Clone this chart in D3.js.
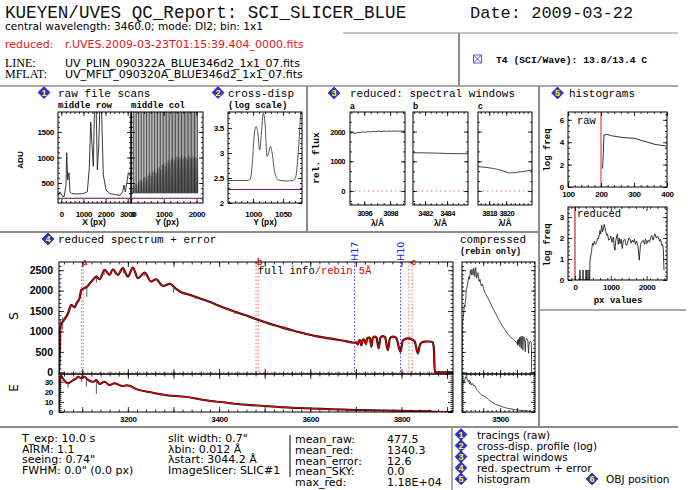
<!DOCTYPE html>
<html>
<head>
<meta charset="utf-8">
<script src="https://cdn.jsdelivr.net/npm/d3@7"></script>
<style>
body { margin: 0; background: #fff; }
svg { display: block; }
</style>
</head>
<body>
<script>
// ---- data
const rowScan = [[-136,260],[-60,327],[17,260],[121,227],[212,460],[243,1093],[288,560],[347,700],[392,327],[469,293],[700,285],[995,293],[1175,327],[1265,800],[1328,1693],[1387,1260],[1447,827],[1508,2100],[1568,2100],[1628,760],[1688,1193],[1749,2100],[1808,2100],[1898,660],[2020,360],[2200,293],[2450,270],[2652,260],[2772,327],[2833,460],[2893,327],[3030,700],[3150,620]]
const colOrders = [20,72,124,175,226,276,326,376,425,474,523,572,620,668,716,764,811,858,905,952,998,1044,1090,1136,1182,1228,1273,1318,1363,1408,1453,1498,1543,1588,1632,1676,1720,1764,1808,1852,1896,1940,1984,2028]
const colShoulder = [420,450,480,470,520,560,540,600,620,580,650,700,640,720,760,700,780,820,760,850,880,820,900,940,880,960,1000,940,980,1020,960,1000,1050,980,1020,1000,960,1040,1000,980,1020,990,1000,980]
const colBase = 300
const colPeak = 2100
const rawLevel = 200

const crossY = [958,975,990,995,999,1002,1005,1008,1011,1014,1017,1020,1023.5,1026,1029,1032,1036,1042,1055,1066,1071,1075,1078,1080,1082]
const crossLog = [2.45,2.45,2.45,2.47,2.83,3.36,3.53,3.4,3.06,3.4,3.8,3.6,2.93,3.0,3.13,3.0,2.63,2.46,2.44,2.45,2.5,2.9,3.43,3.82,3.9]
const crossLevel = 2.27

const winA = [[3094.9,1950],[3095.1,1960],[3095.3,1940],[3095.5,1975],[3095.7,1965],[3095.9,1990],[3096.1,1980],[3096.3,2000],[3096.5,1990],[3096.7,2010],[3096.9,1995],[3097.1,2015],[3097.3,2000],[3097.5,2020],[3097.7,2005],[3097.9,2020],[3098.1,2010],[3098.3,2025],[3098.5,2010],[3098.7,2020],[3098.9,2015],[3099.15,2015]]
const winB = [[3480.9,1290],[3482,1285],[3483,1275],[3484,1265],[3485,1258],[3485.9,1255]]
const winC = [[3816.7,820],[3817.5,800],[3818.5,760],[3819.5,690],[3820.3,610],[3821,620],[3822,660],[3823,705]]

const histRaw = [[205,1.65],[209,4.64],[217,4.7],[232,4.58],[263,4.43],[303,4.34],[319,4.19],[364,3.8],[400,3.65]]
const histRed = [[100,0],[132,0],[140,0.48],[148,0],[218,0],[225,0.48],[232,0],[300,0],[308,0.48],[316,0],[328,0],[335,0.48],[342,0],[384,0],[390,0.48],[397,0],[410,0],[420,0.94],[445,1.2],[467,1.42],[490,1.75],[512,1.65],[540,1.85],[570,1.7],[606,1.8],[630,2.0],[651,1.96],[675,2.1],[699,2.36],[720,2.2],[746,2.6],[770,2.3],[792,2.4],[815,2.65],[838,2.5],[860,2.3],[885,2.12],[910,2.2],[940,1.9],[978,1.96],[1000,2.1],[1030,1.8],[1071,2.04],[1095,1.6],[1118,1.42],[1140,1.9],[1183,2.2],[1210,1.7],[1235,2.0],[1257,1.73],[1290,1.95],[1320,1.5],[1350,1.89],[1390,1.95],[1420,1.7],[1444,1.65],[1480,1.85],[1510,2.0],[1537,1.96],[1570,1.75],[1600,1.9],[1630,1.8],[1660,1.95],[1690,1.7],[1720,1.85],[1760,1.6],[1796,0.94],[1830,1.7],[1870,1.85],[1908,1.89],[1940,1.7],[1970,1.95],[2001,1.73],[2040,1.9],[2080,1.8],[2110,2.0],[2141,2.12],[2180,1.9],[2210,2.1],[2234,2.2],[2270,2.0],[2300,2.1],[2327,2.04],[2360,1.85],[2390,1.95],[2420,1.65],[2450,1.7],[2470,1.4],[2486,0.47]]

const spectrum = [[3049,0],[3050.5,400],[3052,1117],[3055,1200],[3061,1298],[3068,1420],[3076,1649],[3083,1592],[3088,1700],[3094,1813],[3098,2016],[3105,2060],[3112,2114],[3122,2250],[3131,2342],[3138,2278],[3149,2506],[3160,2384],[3167,2523],[3178,2384],[3189,2548],[3200,2342],[3211,2563],[3222,2303],[3237,2440],[3251,2220],[3262,2278],[3277,2114],[3292,2163],[3305,2050],[3317,1960],[3335,1900],[3357,1813],[3380,1720],[3401,1624],[3423,1530],[3445,1445],[3465,1370],[3482,1298],[3505,1210],[3533,1117],[3560,1030],[3591,938],[3615,880],[3642,833],[3670,780],[3697,725],[3701,735],[3704,680],[3707,780],[3709,790],[3712,660],[3715,800],[3718,810],[3722,690],[3725,840],[3729,850],[3731,830],[3734,627],[3737,840],[3741,872],[3745,850],[3750,588],[3754,850],[3759,889],[3764,860],[3770,546],[3775,840],[3781,872],[3788,850],[3798,505],[3803,780],[3814,833],[3824,800],[3829,760],[3836,466],[3841,690],[3850,750],[3862,755],[3868,740],[3871,600],[3873,0],[3913,0]]
const errorSpec = [[3049,0],[3051,30],[3053,36],[3058,33],[3063,30],[3069,28.4],[3075,30],[3080,31.7],[3086,33],[3091,35],[3098,33.4],[3105,35],[3110,33],[3116,31],[3124,30],[3131,31.7],[3138,27.7],[3149,30],[3160,26.7],[3171,28.4],[3180,27],[3189,25.7],[3197,26.5],[3204,26],[3215,23.5],[3226,21.7],[3250,19.5],[3284,16.7],[3328,15],[3360,12.5],[3387,10.7],[3420,9],[3445,7.7],[3500,6],[3550,4.5],[3602,3.4],[3700,2],[3800,1.2],[3861,0.7],[3872,0.3],[3913,0]]
// downward noise spikes of the full-resolution trace: [lambda, low, high]
const fullSpikes = [[3052,850,1300],[3057,1050,1350],[3110,1850,2100],[3131,2200,2380],[3148,2380,2520],[3190,2420,2560],[3236,2350,2460],[3300,1950,2080],[3348,1790,1860],[3435,1420,1500],[3545,1060,1120]]
const errSpikes = [[3069,24,30],[3109,25,34],[3131,18,31],[3098,30,36]]

const windowEdges = [3098.5, 3102, 3481, 3486, 3816.5, 3823.5]
const windowNames = ["a", "b", "c"]
const lineLam = [3697.15, 3797.9]
const lineNames = ["H17", "H10"]

const infoLeft = ["T_exp: 10.0 s", "AIRM:   1.1", "seeing: 0.74\"", "FWHM: 0.0\" (0.0 px)"]
const infoMid = ["slit width: 0.7\"", "λbin: 0.012 Å", "λstart: 3044.2 Å", "ImageSlicer: SLIC#1"]
const statNames = ["mean_raw:", "mean_red:", "mean_error:", "mean_SKY:", "max_red:"]
const statValues = ["477.5", "1340.3", "12.6", "0.0", "1.18E+04"]
const legendItems = ["tracings (raw)", "cross-disp. profile (log)", "spectral windows", "red. spectrum + error", "histogram"]

// ---- helpers
const MONO = "'Liberation Mono', 'DejaVu Sans Mono', monospace"
const SANS = "'DejaVu Sans', sans-serif"
const TICK = "'Liberation Sans', Arial, sans-serif"
const RED = "#d40000"

let svg = d3.select("body").append("svg")
  .attr("width", 693)
  .attr("height", 490)

function text(x, y, s, o = {}) {
  let t = svg.append("text")
    .attr("x", x).attr("y", y)
    .attr("font-family", o.font || SANS)
    .attr("font-size", o.size || 11)
    .attr("fill", o.color || "#000")
    .text(s)
  if (o.bold) t.attr("font-weight", "bold")
  if (o.anchor) t.attr("text-anchor", o.anchor)
  if (o.rotate) t.attr("transform", `rotate(-90,${x},${y})`)
  return t
}

function badge(x, y, n) {
  let g = svg.append("g").attr("transform", `translate(${x},${y})`)
  g.append("path").attr("d", "M0,-6L6,0L0,6L-6,0Z").attr("fill", "#2d2de0").attr("stroke", "#1a1a9a").attr("stroke-width", 0.6)
  g.append("text").attr("text-anchor", "middle").attr("dy", "0.36em")
    .attr("font-family", TICK).attr("font-size", 9).attr("font-weight", "bold")
    .attr("fill", "#ffff00").text(n)
}

let clipCount = 0
function plotArea(x, y, o) {
  let [l, r] = x.range(), [b, t] = y.range()
  let id = "clip" + clipCount++
  svg.append("clipPath").attr("id", id).append("rect")
    .attr("x", l).attr("y", t).attr("width", r - l).attr("height", b - t)
  let inner = svg.append("g").attr("clip-path", `url(#${id})`)
  let g = svg.append("g")
  let mj = o.major || 4, mn = o.minor || 2
  function tk(axis, tr, vals, len, fmt, pad) {
    let a = g.append("g").attr("transform", tr)
      .call(axis.tickValues(vals || []).tickSize(-len).tickSizeOuter(0)
        .tickPadding(pad || 3).tickFormat(fmt || (() => "")))
    a.select(".domain").remove()
    a.selectAll("line").attr("stroke", "#000").attr("stroke-width", 0.8)
    // drop empty labels so only real tick text remains
    a.selectAll("text").filter(function() { return this.textContent === "" }).remove()
    a.attr("font-family", TICK).attr("font-size", o.fs || 8).attr("font-weight", "bold")
      .attr("letter-spacing", o.ls == null ? -0.3 : o.ls)
    return a
  }
  tk(d3.axisBottom(x), `translate(0,${b})`, o.xMinor, mn)
  tk(d3.axisBottom(x), `translate(0,${b})`, o.xMajor, mj, o.xFmt, o.xPad)
  tk(d3.axisTop(x), `translate(0,${t})`, o.xMinor, mn)
  tk(d3.axisTop(x), `translate(0,${t})`, o.xMajor, mj)
  tk(d3.axisLeft(y), `translate(${l},0)`, o.yMinor, mn)
  tk(d3.axisLeft(y), `translate(${l},0)`, o.yMajor, mj, o.yFmt, o.yPad)
  tk(d3.axisRight(y), `translate(${r},0)`, o.yMinor, mn)
  tk(d3.axisRight(y), `translate(${r},0)`, o.yMajor, mj)
  g.append("rect").attr("x", l).attr("y", t).attr("width", r - l).attr("height", b - t)
    .attr("fill", "none").attr("stroke", "#000").attr("stroke-width", 1)
  return inner
}

const lineOf = (x, y) => d3.line().x(d => x(d[0])).y(d => y(d[1]))
const num = d => d

// ---- header
text(5, 17.5, "KUEYEN/UVES QC_Report: SCI_SLICER_BLUE", {font: MONO, size: 17.6, color: "#111"})
text(470, 18, "Date: 2009-03-22", {font: MONO, size: 17, color: "#111"})
text(5, 30, "central wavelength: 3460.0; mode: DI2; bin: 1x1", {size: 10.6})
text(5, 48, "reduced:", {size: 11, color: "#e8141c"})
text(65, 48, "r.UVES.2009-03-23T01:15:39.404_0000.fits", {size: 11, color: "#e8141c"})
text(5, 67, "LINE:", {font: "'Liberation Serif', serif", size: 12})
text(65, 67, "UV_PLIN_090322A_BLUE346d2_1x1_07.fits", {size: 11})
text(5, 78, "MFLAT:", {font: "'Liberation Serif', serif", size: 12})
text(65, 78, "UV_MFLT_090320A_BLUE346d2_1x1_07.fits", {size: 11})

// temperature box
svg.append("rect").attr("x", 473.5).attr("y", 55).attr("width", 8).attr("height", 8)
  .attr("fill", "none").attr("stroke", "#4646ff").attr("stroke-width", 0.9)
svg.append("path").attr("d", "M473.5,55L481.5,63M481.5,55L473.5,63")
  .attr("stroke", "#4646ff").attr("stroke-width", 0.9)
text(496, 63, "T4 (SCI/Wave): 13.8/13.4  C", {font: MONO, size: 9.7, bold: true})

// separator rules
const rules = [[343,33,678,33,1],[459,33,459,86,2],[0,86,678,86,1.5],[307,86,307,232,2],[539,86,539,426,2],[0,232,539,232,2],[539,310,686,310,1.5],[0,427,678,427,2],[452,427,452,490,1.5]]
svg.append("g").selectAll("line").data(rules).enter().append("line")
  .attr("x1", d => d[0]).attr("y1", d => d[1]).attr("x2", d => d[2]).attr("y2", d => d[3])
  .attr("stroke", "#8c8c8c").attr("stroke-width", d => d[4])
svg.append("line").attr("x1", 290).attr("x2", 290).attr("y1", 435).attr("y2", 477)
  .attr("stroke", "#000").attr("stroke-width", 1)

// ---- panel 1: raw file scans
badge(44, 92.5, "1")
text(58, 97, "raw file scans", {font: MONO, size: 11})
text(58, 107.5, "middle row", {font: MONO, size: 9, bold: true})
text(131, 107.5, "middle col", {font: MONO, size: 9, bold: true})

let xRow = d3.scaleLinear().domain([-150, 3150]).range([58, 131])
let yAdu = d3.scaleLinear().domain([108, 1892]).range([203, 112])
let pRow = plotArea(xRow, yAdu, {
  xMajor: [0, 1000, 2000, 3000], xMinor: d3.range(0, 3150, 200), xFmt: num, xPad: 8,
  yMajor: [500, 1000, 1500], yMinor: d3.range(200, 1900, 100), yFmt: num, yPad: 4
})
pRow.append("path").datum(rowScan).attr("d", lineOf(xRow, yAdu))
  .attr("fill", "none").attr("stroke", "#222").attr("stroke-width", 0.9)

let xCol = d3.scaleLinear().domain([0, 2200]).range([131, 203])
let pCol = plotArea(xCol, yAdu, {
  xMajor: [0, 1000, 2000], xMinor: d3.range(0, 2200, 200), xFmt: d => d === 0 ? "" : d, xPad: 8,
  yMajor: [500, 1000, 1500], yMinor: d3.range(200, 1900, 100)
})
let colTrace = []
colOrders.forEach((p, i) => {
  let s = colShoulder[i]
  colTrace.push([p - 22, colBase], [p - 10, s * 0.8], [p, s], [p + 10, s * 0.8], [p + 22, colBase])
})
pCol.append("path").datum(colTrace)
  .attr("d", d3.area().x(d => xCol(d[0])).y0(yAdu(colBase)).y1(d => yAdu(d[1])))
  .attr("fill", "#9a9a9a")
pCol.append("path").datum(colTrace).attr("d", lineOf(xCol, yAdu))
  .attr("fill", "none").attr("stroke", "#666").attr("stroke-width", 0.5)
pCol.selectAll(".order").data(colOrders).enter().append("line")
  .attr("x1", d => xCol(d)).attr("x2", d => xCol(d))
  .attr("y1", yAdu(colBase)).attr("y2", yAdu(colPeak))
  .attr("stroke", "#111").attr("stroke-width", 0.75)
// the column scan's own "0" sits under the end of the row scan's "3000"
text(xCol(0) + 2, 217, "0", {font: TICK, size: 8, bold: true, anchor: "middle"})

svg.append("line").attr("x1", xRow(-150)).attr("x2", xCol(2200))
  .attr("y1", yAdu(rawLevel)).attr("y2", yAdu(rawLevel))
  .attr("stroke", RED).attr("stroke-width", 1)
svg.append("line").attr("x1", xRow(-150)).attr("x2", xCol(2200))
  .attr("y1", yAdu(rawLevel)).attr("y2", yAdu(rawLevel))
  .attr("stroke", "#3030ff").attr("stroke-width", 1).attr("stroke-dasharray", "1,3")

text(23, 160, "ADU", {font: TICK, size: 8, bold: true, anchor: "middle", rotate: true})
text(94, 225, "X (px)", {font: TICK, size: 8.5, bold: true, anchor: "middle"})
text(167, 225, "Y (px)", {font: TICK, size: 8.5, bold: true, anchor: "middle"})

// ---- panel 2: cross-dispersion profile
badge(218, 92.5, "2")
text(228, 97, "cross-disp", {font: MONO, size: 11})
text(228, 107.5, "(log scale)", {font: MONO, size: 9, bold: true})
let xCross = d3.scaleLinear().domain([958, 1082]).range([228, 302])
let yCross = d3.scaleLinear().domain([2, 3.82]).range([203, 112])
let pCross = plotArea(xCross, yCross, {
  xMajor: [1000, 1050], xMinor: d3.range(960, 1082, 10), xFmt: num, xPad: 8,
  yMajor: [2, 2.5, 3, 3.5], yMinor: d3.range(2, 3.82, 0.1), yFmt: num, yPad: 4
})
pCross.append("path").datum(crossY.map((v, i) => [v, crossLog[i]]))
  .attr("d", lineOf(xCross, yCross).curve(d3.curveMonotoneX))
  .attr("fill", "none").attr("stroke", "#555").attr("stroke-width", 1)
pCross.append("line").attr("x1", 228).attr("x2", 302)
  .attr("y1", yCross(crossLevel)).attr("y2", yCross(crossLevel))
  .attr("stroke", RED).attr("stroke-width", 1)
pCross.append("line").attr("x1", 228).attr("x2", 302)
  .attr("y1", yCross(crossLevel)).attr("y2", yCross(crossLevel))
  .attr("stroke", "#3030ff").attr("stroke-width", 1).attr("stroke-dasharray", "1,3")
text(265, 225, "Y (px)", {font: TICK, size: 8.5, bold: true, anchor: "middle"})

// ---- panel 3: spectral windows
badge(334, 93, "3")
text(350, 97, "reduced: spectral windows", {font: MONO, size: 11})
let yFlux = d3.scaleLinear().domain([-470, 2660]).range([205, 112])
let fluxMinor = d3.range(-1, 8).map(i => i * 1000 / 3)
let windows = [
  {name: "a", data: winA, dom: [3094.9, 3099.15], rng: [350, 405], ticks: [3096, 3098]},
  {name: "b", data: winB, dom: [3480.9, 3485.9], rng: [413, 468], ticks: [3482, 3484]},
  {name: "c", data: winC, dom: [3816.7, 3823], rng: [478, 532], ticks: [3818, 3820]}
]
windows.forEach((w, i) => {
  let x = d3.scaleLinear().domain(w.dom).range(w.rng)
  let p = plotArea(x, yFlux, {
    xMajor: w.ticks, xMinor: d3.range(Math.ceil(w.dom[0] * 2) / 2, w.dom[1], 0.5), xFmt: num, xPad: 6,
    yMajor: [0, 1000, 2000], yMinor: fluxMinor, yFmt: i === 0 ? num : null, yPad: 5,
    fs: 7.5, ls: -0.5
  })
  p.append("line").attr("x1", w.rng[0]).attr("x2", w.rng[1]).attr("y1", yFlux(0)).attr("y2", yFlux(0))
    .attr("stroke", "#ff7070").attr("stroke-width", 1).attr("stroke-dasharray", "1.5,3")
  p.append("path").datum(w.data).attr("d", lineOf(x, yFlux))
    .attr("fill", "none").attr("stroke", "#333").attr("stroke-width", 0.9)
  text(w.rng[0], 108.5, w.name, {font: TICK, size: 8.5, bold: true})
  text((w.rng[0] + w.rng[1]) / 2, 226, "λ/Å", {font: TICK, size: 8.5, bold: true, anchor: "middle"})
})
text(319, 158, "rel. flux", {font: MONO, size: 9.5, bold: true, anchor: "middle", rotate: true})

// ---- panel 5: histograms
badge(557.5, 93, "5")
text(569, 97, "histograms", {font: MONO, size: 11})
let xHistRaw = d3.scaleLinear().domain([100, 400]).range([568, 667])
let yHistRaw = d3.scaleLinear().domain([0, 6.7]).range([187, 112])
let pRaw = plotArea(xHistRaw, yHistRaw, {
  xMajor: [100, 200, 300, 400], xMinor: d3.range(100, 400, 20), xFmt: num, xPad: 4,
  yMajor: [0, 2, 4, 6], yMinor: d3.range(0, 6.7, 0.5), yFmt: num, yPad: 4
})
pRaw.append("line").attr("x1", xHistRaw(200)).attr("x2", xHistRaw(200)).attr("y1", 112).attr("y2", 187)
  .attr("stroke", "#e02020").attr("stroke-width", 1)
pRaw.append("path").datum(histRaw).attr("d", lineOf(xHistRaw, yHistRaw))
  .attr("fill", "none").attr("stroke", "#333").attr("stroke-width", 1)
text(577, 124, "raw", {font: MONO, size: 10.5})
text(550, 150, "log freq", {font: MONO, size: 9, bold: true, anchor: "middle", rotate: true})

let xHistRed = d3.scaleLinear().domain([-195, 2570]).range([568, 667])
let yHistRed = d3.scaleLinear().domain([0, 3.48]).range([280, 207])
let pRed = plotArea(xHistRed, yHistRed, {
  xMajor: [0, 1000, 2000], xMinor: d3.range(-100, 2570, 200), xFmt: num, xPad: 4,
  yMajor: [0, 1, 2, 3], yMinor: d3.range(0, 3.48, 0.2), yFmt: num, yPad: 4
})
pRed.append("line").attr("x1", xHistRed(0)).attr("x2", xHistRed(0)).attr("y1", 207).attr("y2", 280)
  .attr("stroke", "#b00000").attr("stroke-width", 1)
pRed.append("path").datum(histRed).attr("d", lineOf(xHistRed, yHistRed))
  .attr("fill", "none").attr("stroke", "#222").attr("stroke-width", 0.9)
text(577, 217, "reduced", {font: MONO, size: 10.5})
text(550, 245, "log freq", {font: MONO, size: 9, bold: true, anchor: "middle", rotate: true})
text(618, 303, "px values", {font: MONO, size: 9, bold: true, anchor: "middle"})

// ---- panel 4: reduced spectrum + error
badge(48, 239, "4")
text(58, 243, "reduced spectrum + error", {font: MONO, size: 11})
let xSpec = d3.scaleLinear().domain([3049, 3913]).range([59, 453])
let ySpec = d3.scaleLinear().domain([-40, 2700]).range([374, 262])
let yErr = d3.scaleLinear().domain([0, 37.7]).range([412, 374])
let specTicks = d3.range(3100, 3901, 100)
let specMinor = d3.range(3060, 3913, 20)
let pS = plotArea(xSpec, ySpec, {
  xMajor: specTicks, xMinor: specMinor,
  yMajor: d3.range(0, 2501, 500), yMinor: d3.range(0, 2700, 100), yFmt: num, yPad: 6,
  fs: 10.5, ls: 0, major: 5, minor: 2.5
})
let pE = plotArea(xSpec, yErr, {
  xMajor: specTicks, xMinor: specMinor, xFmt: d => d % 200 ? "" : d, xPad: 4,
  yMajor: [0, 10, 20, 30], yMinor: d3.range(0, 37.7, 2), yFmt: num, yPad: 6,
  major: 5, minor: 2.5
})

// window markers and line identifications
pS.selectAll(".win").data(windowEdges).enter().append("line")
  .attr("x1", d => xSpec(d)).attr("x2", d => xSpec(d)).attr("y1", 262).attr("y2", 374)
  .attr("stroke", "#ff6060").attr("stroke-width", 1).attr("stroke-dasharray", "1.5,2")
pS.selectAll(".hline").data(lineLam).enter().append("line")
  .attr("x1", d => xSpec(d)).attr("x2", d => xSpec(d)).attr("y1", 262).attr("y2", 374)
  .attr("stroke", "#4040ff").attr("stroke-width", 1).attr("stroke-dasharray", "1.5,2")
pS.append("line").attr("x1", 59).attr("x2", 453).attr("y1", ySpec(0)).attr("y2", ySpec(0))
  .attr("stroke", "#ff6060").attr("stroke-width", 1).attr("stroke-dasharray", "1.5,2.5")

pS.append("path").datum(spectrum).attr("d", lineOf(xSpec, ySpec).curve(d3.curveMonotoneX))
  .attr("fill", "none").attr("stroke", "#111").attr("stroke-width", 2.2)
pS.selectAll(".spk").data(fullSpikes).enter().append("line")
  .attr("x1", d => xSpec(d[0])).attr("x2", d => xSpec(d[0]))
  .attr("y1", d => ySpec(d[1])).attr("y2", d => ySpec(d[2]))
  .attr("stroke", "#333").attr("stroke-width", 0.8)
pS.append("path").datum(spectrum).attr("d", lineOf(xSpec, ySpec).curve(d3.curveMonotoneX))
  .attr("fill", "none").attr("stroke", RED).attr("stroke-width", 1.2)

pE.append("path").datum(errorSpec).attr("d", lineOf(xSpec, yErr).curve(d3.curveMonotoneX))
  .attr("fill", "none").attr("stroke", "#111").attr("stroke-width", 2)
pE.selectAll(".spk").data(errSpikes).enter().append("line")
  .attr("x1", d => xSpec(d[0])).attr("x2", d => xSpec(d[0]))
  .attr("y1", d => yErr(d[1])).attr("y2", d => yErr(d[2]))
  .attr("stroke", "#333").attr("stroke-width", 0.8)
pE.append("path").datum(errorSpec).attr("d", lineOf(xSpec, yErr).curve(d3.curveMonotoneX))
  .attr("fill", "none").attr("stroke", RED).attr("stroke-width", 1.2)

windowNames.forEach((n, i) => {
  text(xSpec(windowEdges[i * 2 + 1]) + 1.5, 264.5, n, {font: TICK, size: 9, bold: true, color: RED, anchor: "middle"})
})
lineNames.forEach((n, i) => {
  text(xSpec(lineLam[i]) + 3.5, 261, n, {font: SANS, size: 9.5, color: "#2020ff", rotate: true})
})
let fi = text(258, 273.5, "full info", {font: MONO, size: 10.5})
fi.append("tspan").attr("fill", RED).text("/rebin 5Å")

text(18, 316, "S", {font: SANS, size: 12, anchor: "middle", rotate: true})
text(18, 388, "E", {font: SANS, size: 12, anchor: "middle", rotate: true})

// compressed view
text(460, 243, "compressed", {font: MONO, size: 11})
text(460, 254, "(rebin only)", {font: MONO, size: 8.5, bold: true})
let xComp = d3.scaleLinear().domain([3049, 3913]).range([462, 535])
let compTicks = [3300, 3500, 3700]
let compMinor = d3.range(3100, 3913, 50)
let pCS = plotArea(xComp, ySpec, {
  xMajor: compTicks, xMinor: compMinor,
  yMajor: d3.range(0, 2501, 500), yMinor: d3.range(0, 2700, 100), major: 4, minor: 2
})
let pCE = plotArea(xComp, yErr, {
  xMajor: compTicks, xMinor: compMinor, xFmt: d => d === 3500 ? d : "", xPad: 4,
  yMajor: [0, 10, 20, 30], yMinor: d3.range(0, 37.7, 2), major: 4, minor: 2
})
pCS.append("path").datum(spectrum).attr("d", lineOf(xComp, ySpec))
  .attr("fill", "none").attr("stroke", "#222").attr("stroke-width", 0.8)
pCE.append("path").datum(errorSpec).attr("d", lineOf(xComp, yErr))
  .attr("fill", "none").attr("stroke", "#222").attr("stroke-width", 0.8)

// ---- bottom info block
infoLeft.forEach((s, i) => text(22, 442 + i * 10.7, s, {size: 11}))
infoMid.forEach((s, i) => text(168, 442 + i * 10.7, s, {size: 11}))
statNames.forEach((s, i) => {
  text(295, 443 + i * 10.8, s, {size: 11})
  text(387, 443 + i * 10.8, statValues[i], {size: 11})
})
legendItems.forEach((s, i) => {
  badge(461, 434.5 + i * 11.1, String(i + 1))
  text(477, 438.5 + i * 11.1, s, {size: 10.5})
})
badge(592, 479, "6")
text(606, 483, "OBJ position", {size: 10.5})
</script>
</body>
</html>
